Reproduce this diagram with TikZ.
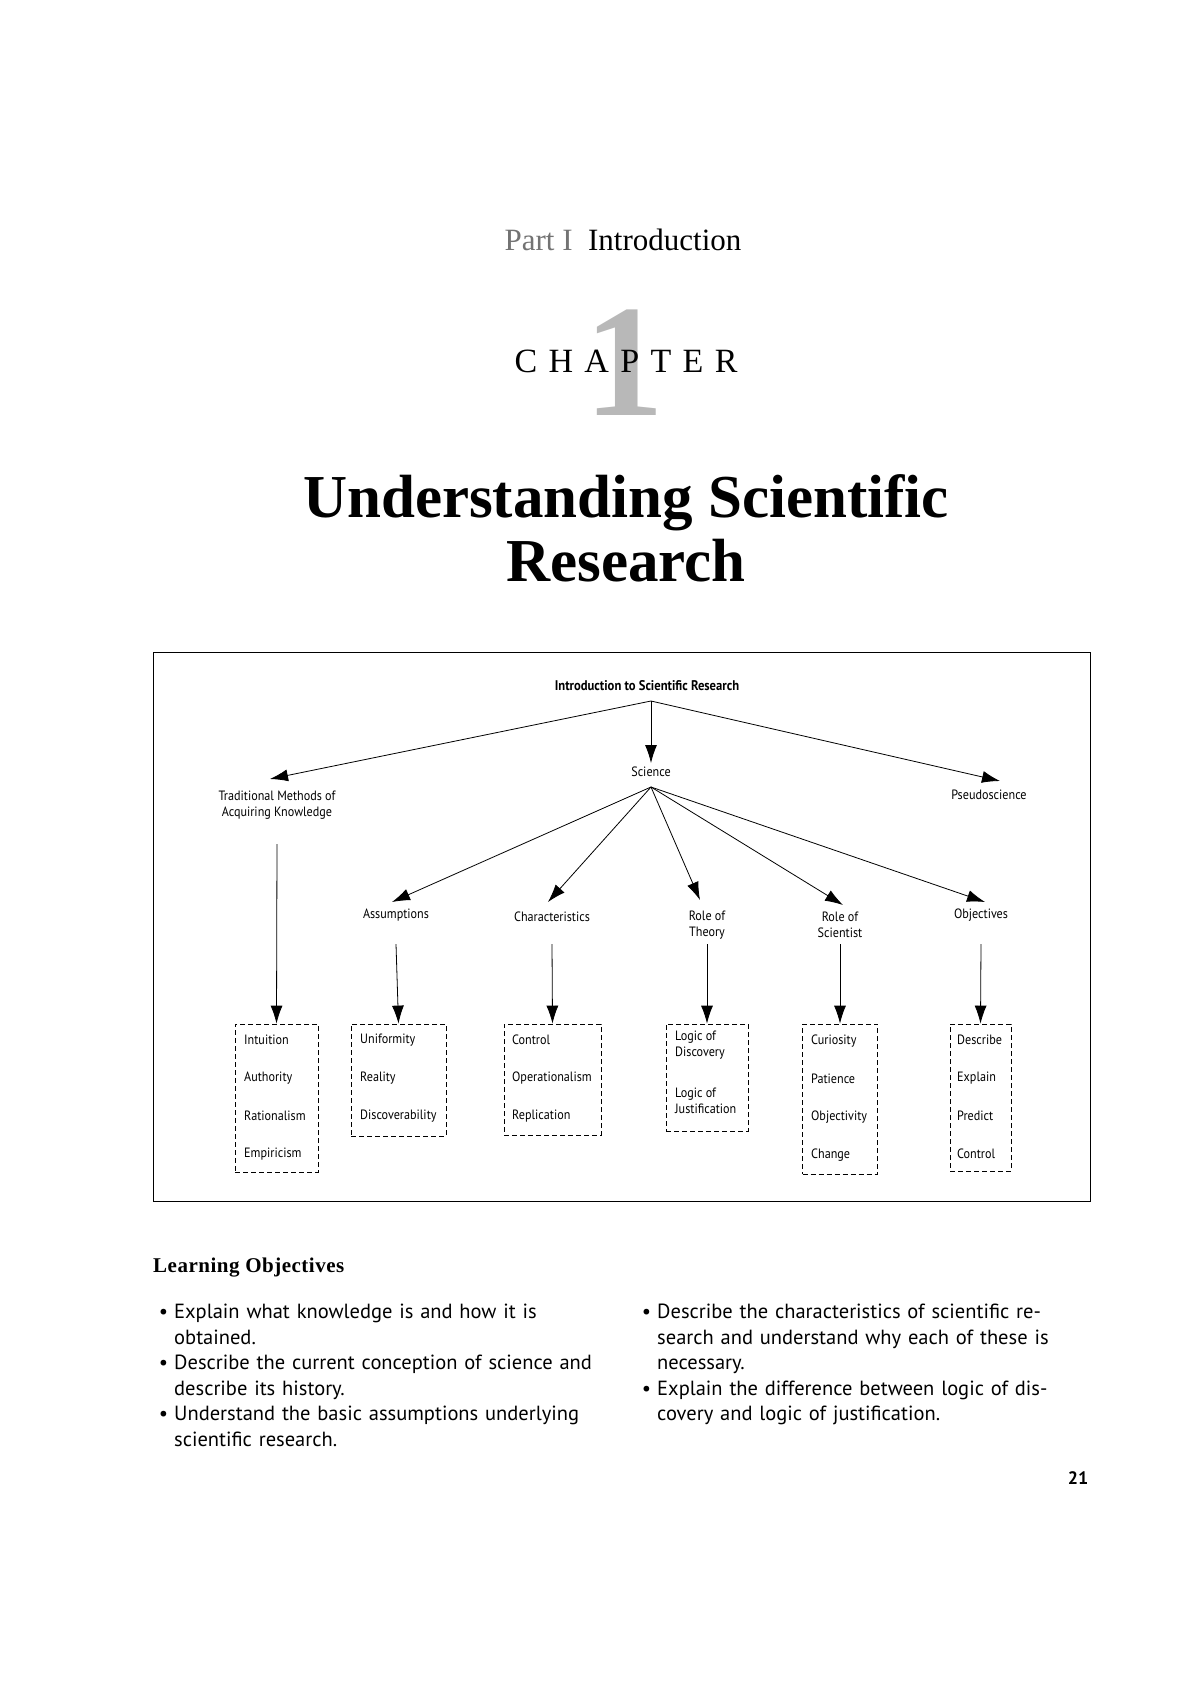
\documentclass[tikz,border=0pt]{standalone}
\usepackage{fontspec}
\setmainfont{Liberation Serif}
\setsansfont{PT Sans}
\usetikzlibrary{arrows.meta}
\begin{document}
\begin{tikzpicture}[x=1pt,y=-1pt,
  lab/.style={font=\sffamily\fontsize{13.5}{15.5}\selectfont,align=center,inner sep=1pt,xscale=0.9},
  box/.style={draw,dash pattern=on 5pt off 3pt,line width=0.8pt,inner sep=0pt},
  item/.style={font=\sffamily\fontsize{13.5}{15.5}\selectfont,anchor=west,inner sep=0pt,xscale=0.9},
  arr/.style={line width=0.8pt,-{Latex[length=18pt,width=12pt]}},
  bul/.style={font=\sffamily\fontsize{20.5}{25.5}\selectfont,anchor=north west,text width=446pt,align=left,inner sep=0pt}]
\useasboundingbox (0,0) rectangle (1200,1698);
% header
\node (part) at (623,240) {\fontsize{31}{36}\selectfont\textcolor{black!55}{Part I}\enspace Introduction};
\node[text=black!28] (one) at (624,363) {\bfseries\fontsize{160}{160}\selectfont 1};
\node (chap) at (626,361) {\fontsize{34}{40}\selectfont C\,\,H\,\,A\,\,P\,\,T\,\,E\,\,R};
\node (t1) at (626,503) {\bfseries\fontsize{61}{66}\selectfont Understanding Scientific};
\node (t2) at (626,561) {\bfseries\fontsize{61}{66}\selectfont Research};
% frame
\draw[line width=0.8pt] (153,652) rectangle (1090,1201);
\node[lab,font=\sffamily\bfseries\fontsize{14}{15}\selectfont] (intro) at (647,686) {Introduction to Scientific Research};
\coordinate (ib) at (651,701);
\node[lab] (sci) at (651,772) {Science};
\coordinate (sb) at (651,787);
\node[lab] (trad) at (277,805) {Traditional Methods of\\Acquiring Knowledge};
\node[lab] (pseudo) at (989,795) {Pseudoscience};
\node[lab] (ass) at (396,915) {Assumptions};
\node[lab] (cha) at (552,917) {Characteristics};
\node[lab] (the) at (707,925) {Role of\\Theory};
\node[lab] (scn) at (840,925) {Role of\\Scientist};
\node[lab] (obj) at (981,915) {Objectives};
\draw[arr] (ib) -- (651,763);
\draw[arr] (ib) -- (270,779);
\draw[arr] (ib) -- (1000,781);
\draw[arr] (sb) -- (392,902);
\draw[arr] (sb) -- (548,902);
\draw[arr] (sb) -- (700,900);
\draw[arr] (sb) -- (843,905);
\draw[arr] (sb) -- (985,902);
% boxes
\node[box,minimum width=83pt,minimum height=148pt] (b1) at (276.5,1098) {};
\node[box,minimum width=95pt,minimum height=112pt] (b2) at (398.5,1080) {};
\node[box,minimum width=97pt,minimum height=111pt] (b3) at (552.5,1079.5) {};
\node[box,minimum width=82pt,minimum height=107pt] (b4) at (707,1077.5) {};
\node[box,minimum width=75pt,minimum height=150pt] (b5) at (840,1099) {};
\node[box,minimum width=61pt,minimum height=147pt] (b6) at (980.5,1097.5) {};
\draw[arr] (277,844) -- (b1.north);
\draw[arr] (396,944) -- (b2.north);
\draw[arr] (552,944) -- (b3.north);
\draw[arr] (707,944) -- (b4.north);
\draw[arr] (840,944) -- (b5.north);
\draw[arr] (981,944) -- (b6.north);
\foreach \t [count=\i] in {Intuition,Authority,Rationalism,Empiricism}
  \node[item] (i1\i) at (244,1002+\i*38) {\t};
\foreach \t [count=\i] in {Uniformity,Reality,Discoverability}
  \node[item] (i2\i) at (360,1002+\i*38) {\t};
\foreach \t [count=\i] in {Control,Operationalism,Replication}
  \node[item] (i3\i) at (512,1002+\i*38) {\t};
\node[item,align=left,anchor=north west] (i41) at (675,1031) {Logic of\\Discovery};
\node[item,align=left,anchor=north west] (i42) at (675,1088) {Logic of\\Justification};
\foreach \t [count=\i] in {Curiosity,Patience,Objectivity,Change}
  \node[item] (i5\i) at (811,1003+\i*38) {\t};
\foreach \t [count=\i] in {Describe,Explain,Predict,Control}
  \node[item] (i6\i) at (957,1002+\i*38) {\t};
% learning objectives
\node[anchor=west,inner sep=0pt] (lo) at (153,1268) {\bfseries\fontsize{21}{24}\selectfont L\kern0.5pt e\kern0.5pt a\kern0.5pt r\kern0.5pt n\kern0.5pt i\kern0.5pt n\kern0.5pt g\kern0.5pt\ O\kern0.5pt b\kern0.5pt j\kern0.5pt e\kern0.5pt c\kern0.5pt t\kern0.5pt i\kern0.5pt v\kern0.5pt e\kern0.5pt s};
\node[bul] (c1) at (158,1293) {\begin{list}{\textbullet}{\leftmargin16pt\labelwidth10pt\labelsep6pt\itemsep0pt\parsep0pt\topsep0pt}
\item Explain what knowledge is and how it is obtained.
\item Describe the current conception of science and describe its history.
\item Understand the basic assumptions underlying scientific research.
\end{list}};
\node[bul] (c2) at (641,1293) {\begin{list}{\textbullet}{\leftmargin16pt\labelwidth10pt\labelsep6pt\itemsep0pt\parsep0pt\topsep0pt}
\item Describe the characteristics of scientific re-\\search and understand why each of these is necessary.
\item Explain the difference between logic of dis-\\covery and logic of justification.
\end{list}};
\node[font=\sffamily\bfseries\fontsize{18}{20}\selectfont] (pg) at (1078,1478) {21};
\end{tikzpicture}
\end{document}
